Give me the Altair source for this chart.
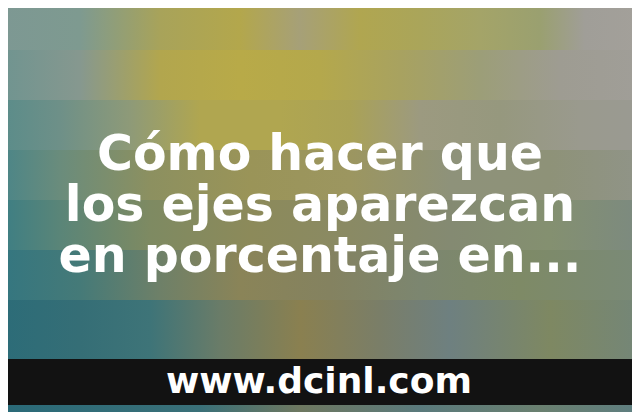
import altair as alt
import pandas as pd

# ---- data (reference pixel coordinates) ----
band_top = [0, 50, 100, 150, 200, 250, 300, 405]
band_bottom = [50, 100, 150, 200, 250, 300, 360, 420]
band_stops = [
    [(0, "#7d9893"), (80, "#7e9a90"), (160, "#a8a35a"), (240, "#b3a74c"), (300, "#a6a078"),
     (360, "#b0a650"), (420, "#aaa55a"), (480, "#a4a468"), (540, "#9aa070"), (585, "#a09e98"), (640, "#a3a09a")],
    [(0, "#6f9490"), (80, "#86988f"), (160, "#b2a64e"), (240, "#b8aa48"), (320, "#b4a84c"),
     (400, "#a8a260"), (480, "#9c9e78"), (560, "#9e9c92"), (640, "#a09e98")],
    [(0, "#5a8c8a"), (60, "#6e9088"), (130, "#8e9a78"), (200, "#b0a650"), (280, "#b0a650"),
     (350, "#aaa256"), (420, "#9c9a80"), (500, "#96987e"), (580, "#9a9a8e"), (640, "#9a9a92")],
    [(0, "#4a8588"), (60, "#6a8c7c"), (150, "#8c9060"), (250, "#9a9458"), (350, "#9c9660"),
     (450, "#8e927a"), (550, "#8e9278"), (640, "#909488")],
    [(0, "#3c7e84"), (60, "#5a8578"), (150, "#7e8a62"), (250, "#8c8a5a"), (350, "#8a8a64"),
     (450, "#848a72"), (550, "#849070"), (640, "#7c8a80")],
    [(0, "#347680"), (80, "#457a78"), (160, "#6e8068"), (240, "#8a8458"), (330, "#848260"),
     (420, "#7c8670"), (520, "#7e8a66"), (640, "#7a8a78")],
    [(0, "#2c6c78"), (80, "#356e76"), (150, "#3e7478"), (220, "#6a7c68"), (300, "#8a8050"),
     (380, "#7a7e68"), (450, "#6e8080"), (550, "#7e8862"), (640, "#748678")],
    [(0, "#2a6a78"), (200, "#3a7078"), (300, "#6e7860"), (420, "#5a7a7c"), (540, "#6a8070"), (640, "#5e7e80")],
]

bar_top = [359]
bar_bottom = [405]

title_lines = ["Cómo hacer que", "los ejes aparezcan", "en porcentaje en..."]
title_first_baseline = [170]
title_line_height = 51
title_center = [320]

site_text = ["www.dcinl.com"]
site_baseline = [393]
site_center = [319]

# visible window of the reference (page has an 8px margin)
X_DOMAIN = [8, 632]
Y_DOMAIN = [8, 412]
W = X_DOMAIN[1] - X_DOMAIN[0]
H = Y_DOMAIN[1] - Y_DOMAIN[0]

xs = alt.Scale(domain=X_DOMAIN, nice=False, zero=False)
ys = alt.Scale(domain=Y_DOMAIN, nice=False, zero=False, reverse=True)

layers = []
for top, bottom, stops in zip(band_top, band_bottom, band_stops):
    df = pd.DataFrame({"x": [0], "x2": [640], "y": [top], "y2": [bottom]})
    grad = alt.Gradient(
        gradient="linear",
        x1=0, x2=1, y1=0, y2=0,
        stops=[alt.GradientStop(offset=o / 640, color=c) for o, c in stops],
    )
    layers.append(
        alt.Chart(df).mark_rect(fill=grad, clip=True, strokeWidth=0).encode(
            x=alt.X("x:Q", scale=xs, axis=None),
            x2="x2:Q",
            y=alt.Y("y:Q", scale=ys, axis=None),
            y2="y2:Q",
        )
    )

bar_df = pd.DataFrame({"x": [0], "x2": [640], "y": bar_top, "y2": bar_bottom})
layers.append(
    alt.Chart(bar_df).mark_rect(color="#121212", clip=True).encode(
        x=alt.X("x:Q", scale=xs, axis=None), x2="x2:Q",
        y=alt.Y("y:Q", scale=ys, axis=None), y2="y2:Q",
    )
)

title_df = pd.DataFrame({"t": ["\n".join(title_lines)], "x": title_center, "y": title_first_baseline})
layers.append(
    alt.Chart(title_df).mark_text(
        font="DejaVu Sans", fontWeight="bold", fontSize=49, color="white",
        align="center", baseline="alphabetic", lineBreak="\n", lineHeight=title_line_height,
    ).encode(
        x=alt.X("x:Q", scale=xs, axis=None),
        y=alt.Y("y:Q", scale=ys, axis=None),
        text="t:N",
    )
)

site_df = pd.DataFrame({"t": site_text, "x": site_center, "y": site_baseline})
layers.append(
    alt.Chart(site_df).mark_text(
        font="DejaVu Sans", fontWeight="bold", fontSize=36, color="white",
        align="center", baseline="alphabetic",
    ).encode(
        x=alt.X("x:Q", scale=xs, axis=None),
        y=alt.Y("y:Q", scale=ys, axis=None),
        text="t:N",
    )
)

chart = (
    alt.layer(*layers)
    .properties(width=W, height=H, padding=0, autosize=alt.AutoSizeParams(type="none"))
    .configure_view(stroke=None)
)

chart.save("out.html", embed_options={"renderer": "svg", "actions": False})
